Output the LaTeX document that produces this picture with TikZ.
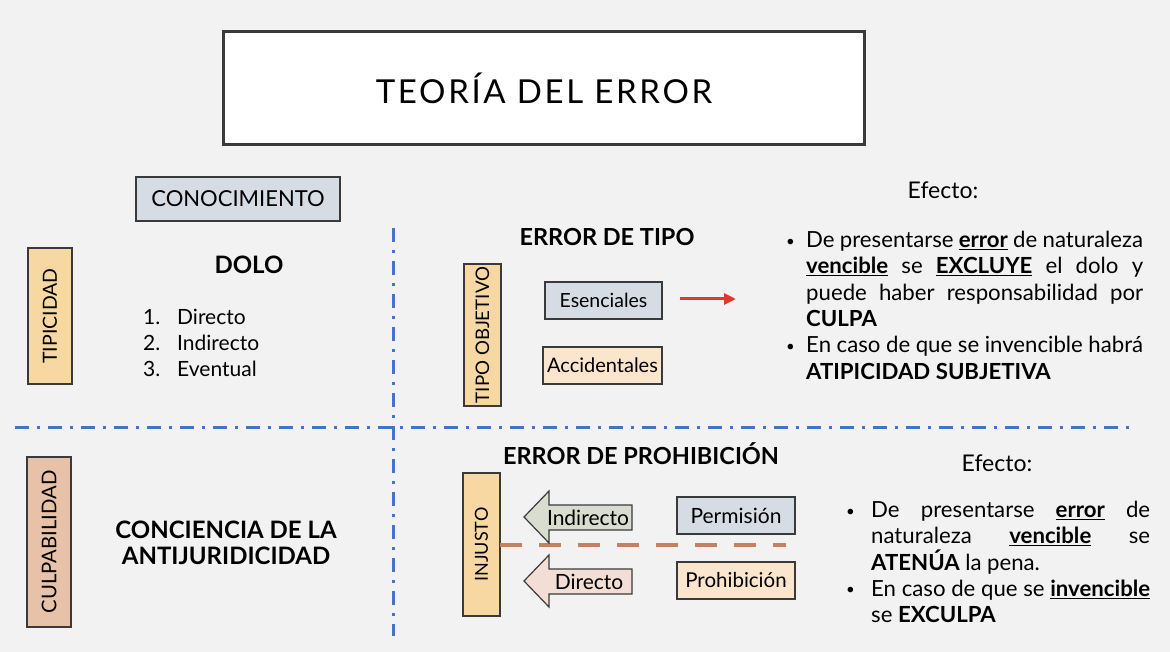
\documentclass[tikz,border=0pt]{standalone}
\usepackage{fontspec}
\setmainfont{Lato}
\usetikzlibrary{arrows.meta}
\definecolor{bg}{HTML}{F2F2F2}
\definecolor{edge}{HTML}{3A3A3A}
\definecolor{greybox}{HTML}{D6DCE4}
\definecolor{orangebox}{HTML}{F8D8A2}
\definecolor{salmonbox}{HTML}{E8C2A8}
\definecolor{peachbox}{HTML}{FCE5CD}
\definecolor{greenarrow}{HTML}{D9DDD0}
\definecolor{pinkarrow}{HTML}{F2DED4}
\definecolor{blueline}{HTML}{4472C4}
\definecolor{brownline}{HTML}{C5825A}
\definecolor{redarrow}{HTML}{E0392B}
\newcommand{\fs}[1]{\fontsize{#1}{#1}\selectfont}
\newcommand{\bul}{\raisebox{1.5pt}{\fs{15}\textbullet}}
\newcommand{\widespaces}{\spaceskip=5.5pt plus 8pt minus 2pt\relax\hyphenpenalty=10000\relax\exhyphenpenalty=10000\relax}
\tikzset{
  box/.style={draw=edge, line width=1.2pt, inner sep=0pt, font=\fs{20.5}},
  head/.style={font=\fs{23.5}\bfseries, inner sep=0pt},
  plain/.style={font=\fs{21}, inner sep=0pt},
  divider/.style={blueline, line width=3pt, dash pattern=on 14pt off 8pt on 3pt off 8pt},
  effect/.style={font=\fontsize{22.2}{26.3}\selectfont, inner sep=0pt, align=justify, anchor=north west},
  blockarrow/.style={draw=edge, line width=1.2pt}
}
\begin{document}
\begin{tikzpicture}[x=1pt,y=-1pt]
\fill[bg] (0,0) rectangle (1170,652);
\useasboundingbox (0,0) rectangle (1170,652);

% title
\node[draw=edge, line width=3pt, fill=white, minimum width=641, minimum height=113, inner sep=0pt,
  font=\fs{33}\addfontfeatures{LetterSpace=8}] (title) at (544,88) {TEORÍA DEL ERROR};

% dividers
\coordinate (vtop) at (393,228);
\coordinate (vbot) at (393,636);
\coordinate (hl) at (15,427);
\coordinate (hr) at (1135,427);
\draw[divider] (vtop) -- (vbot);
\draw[divider] (hl) -- (hr);

% top left
\node[box, fill=greybox, minimum width=204, minimum height=44, font=\fs{22}] (con) at (238,199) {CONOCIMIENTO};
\node[box, fill=orangebox, rotate=90, minimum width=136, minimum height=44, font=\fs{19.5}] (tip) at (50,316) {TIPICIDAD};
\node[head, font=\fs{24}\bfseries] (dolo) at (249,265) {DOLO};
\node[plain, anchor=base west] (n1) at (143,324) {1.};
\node[plain, anchor=base west] (l1) at (177,324) {Directo};
\node[plain, anchor=base west] (n2) at (143,350) {2.};
\node[plain, anchor=base west] (l2) at (177,350) {Indirecto};
\node[plain, anchor=base west] (n3) at (143,376) {3.};
\node[plain, anchor=base west] (l3) at (177,376) {Eventual};

% top right
\node[head] (et) at (607,237) {ERROR DE TIPO};
\node[box, fill=orangebox, rotate=90, minimum width=142, minimum height=37, font=\fs{18.7}] (tobj) at (482.5,335) {TIPO OBJETIVO};
\node[box, fill=greybox, minimum width=117, minimum height=37, font=\fs{19.5}] (esen) at (603.5,300.5) {Esenciales};
\node[box, fill=peachbox, minimum width=119, minimum height=37, font=\fs{20}] (acc) at (602.5,365.5) {Accidentales};
\coordinate (ra) at (680,299);
\coordinate (rb) at (736,299);
\draw[redarrow, line width=3pt, -{Triangle[length=12pt,width=11pt]}] (ra) -- (rb);
\node[plain, font=\fs{23}] (ef1) at (943,190) {Efecto:};
\node[effect, text width=357pt] (eft) at (786,231) {\widespaces
\hangindent=20pt\hangafter=1\makebox[20pt][l]{\bul}De presentarse \underline{\textbf{error}} de naturaleza\linebreak
\underline{\textbf{vencible}} se \underline{\textbf{EXCLUYE}} el dolo y\linebreak
puede haber responsabilidad por\linebreak
\textbf{CULPA}\par
\hangindent=20pt\hangafter=1\makebox[20pt][l]{\bul}En caso de que se invencible habrá\linebreak
\textbf{ATIPICIDAD SUBJETIVA}\par};

% bottom left
\node[box, fill=salmonbox, rotate=90, minimum width=170, minimum height=44, font=\fs{20.3}] (cul) at (49,542) {CULPABILIDAD};
\node[head, align=center, font=\fontsize{24}{26}\bfseries] (conc) at (226,543) {CONCIENCIA DE LA\\ANTIJURIDICIDAD};

% bottom right
\node[head] (ep) at (641,454) {ERROR DE PROHIBICIÓN};
\node[box, fill=orangebox, rotate=90, minimum width=143, minimum height=37, font=\fs{18}] (inj) at (481.5,544.5) {INJUSTO};
\coordinate (dl) at (500,545);
\coordinate (dr) at (786,545);
\draw[brownline, line width=4pt, dash pattern=on 22pt off 17pt] (dl) -- (dr);
\draw[blockarrow, fill=greenarrow] (524,517) -- (549,491) -- (549,505) -- (632,505) -- (632,530) -- (549,530) -- (549,543) -- cycle;
\node[plain] (ind) at (588,517.5) {Indirecto};
\draw[blockarrow, fill=pinkarrow] (524,581) -- (549,555) -- (549,569) -- (632,569) -- (632,594) -- (549,594) -- (549,607) -- cycle;
\node[plain] (dir) at (589,581.5) {Directo};
\node[box, fill=greybox, minimum width=118, minimum height=37, font=\fs{21}] (perm) at (736,515.5) {Permisión};
\node[box, fill=peachbox, minimum width=118, minimum height=37] (proh) at (736,580.5) {Prohibición};
\node[plain, font=\fs{23}] (ef2) at (997,463) {Efecto:};
\node[effect, text width=304pt] (efb) at (846,501) {\widespaces
\hangindent=25pt\hangafter=1\makebox[25pt][l]{\bul}De presentarse \underline{\textbf{error}} de\linebreak
naturaleza \underline{\textbf{vencible}} se\linebreak
\textbf{ATENÚA} la pena.\par
\hangindent=25pt\hangafter=1\makebox[25pt][l]{\bul}En caso de que se \underline{\textbf{invencible}}\linebreak
se \textbf{EXCULPA}\par};
\end{tikzpicture}
\end{document}
